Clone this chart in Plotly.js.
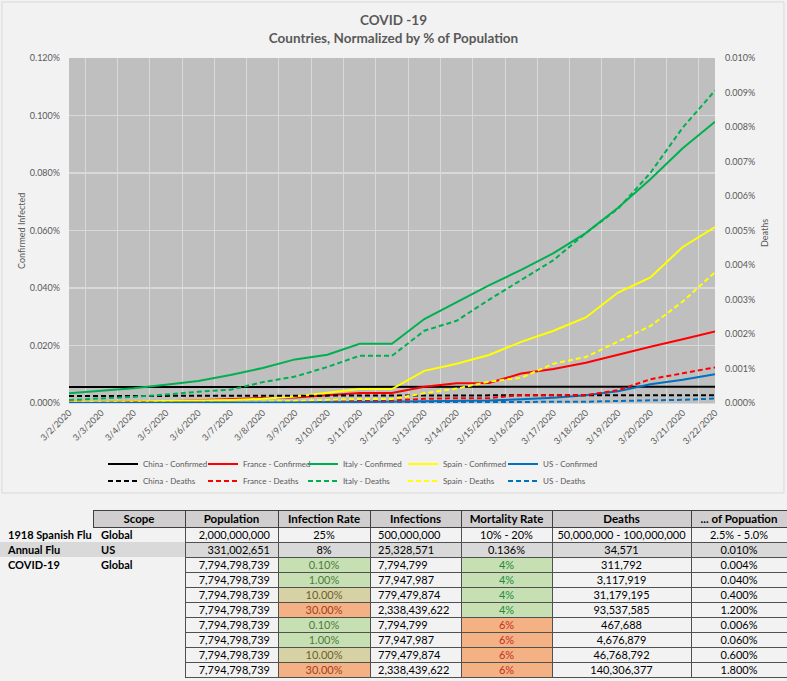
<!DOCTYPE html>
<html>
<head>
<meta charset="utf-8">
<script src="https://cdn.plot.ly/plotly-3.0.1.min.js"></script>
<style>
  html, body { margin: 0; padding: 0; background: #f2f2f2; }
  #chart { width: 787px; height: 681px; }
</style>
</head>
<body>
<div id="chart"></div>
<script>
// ---------- chart data (percent of population) ----------
const dates = ['3/2/2020','3/3/2020','3/4/2020','3/5/2020','3/6/2020','3/7/2020','3/8/2020','3/9/2020','3/10/2020','3/11/2020','3/12/2020','3/13/2020','3/14/2020','3/15/2020','3/16/2020','3/17/2020','3/18/2020','3/19/2020','3/20/2020','3/21/2020','3/22/2020'];

const chinaConfirmed = [0.00556,0.00557,0.00558,0.00559,0.00560,0.00560,0.00561,0.00561,0.00561,0.00561,0.00561,0.00561,0.00562,0.00562,0.00562,0.00562,0.00562,0.00562,0.00562,0.00563,0.00566];
const franceConfirmed = [0.00029,0.00031,0.00044,0.00058,0.00100,0.00147,0.00174,0.00187,0.00275,0.00351,0.00351,0.00564,0.00689,0.00694,0.01024,0.01182,0.01398,0.01681,0.01955,0.02216,0.02489];
const italyConfirmed = [0.00337,0.00414,0.00511,0.00638,0.00767,0.00973,0.0122,0.01517,0.01679,0.0206,0.0206,0.0292,0.0350,0.0409,0.0463,0.0521,0.0591,0.0679,0.0778,0.0886,0.0978];
const spainConfirmed = [0.00026,0.00035,0.00048,0.00055,0.00086,0.00107,0.00144,0.00230,0.00363,0.00487,0.00487,0.01119,0.01367,0.01668,0.02127,0.02513,0.02975,0.03842,0.04366,0.05428,0.06118];
const usConfirmed = [0.00002,0.00002,0.00003,0.00005,0.00007,0.00010,0.00014,0.00016,0.00022,0.00034,0.00047,0.00065,0.00087,0.00090,0.00132,0.00186,0.00269,0.00410,0.00650,0.00810,0.01000];

const chinaDeaths = [0.000202,0.000205,0.000207,0.000209,0.000211,0.000213,0.000215,0.000217,0.000218,0.000219,0.000220,0.000221,0.000222,0.000222,0.000223,0.000224,0.000225,0.000225,0.000226,0.000226,0.000227];
const franceDeaths = [0.000005,0.000006,0.000006,0.000009,0.000014,0.000017,0.000029,0.000029,0.000051,0.000074,0.000074,0.000121,0.000139,0.000139,0.000227,0.000227,0.000227,0.000372,0.000689,0.000861,0.001033];
const italyDeaths = [0.000086,0.000131,0.000177,0.000245,0.000326,0.000385,0.000605,0.000766,0.001044,0.001368,0.001368,0.002094,0.002383,0.002992,0.003569,0.004140,0.004925,0.005632,0.006669,0.007980,0.009057];
const spainDeaths = [0,0.000002,0.000004,0.000006,0.000011,0.000021,0.000036,0.000060,0.000075,0.000116,0.000118,0.000284,0.000417,0.000618,0.000732,0.001140,0.001333,0.001775,0.002231,0.002941,0.003790];
const usDeaths = [0.000002,0.000003,0.000003,0.000004,0.000004,0.000005,0.000006,0.000007,0.000009,0.000011,0.000012,0.000014,0.000016,0.000019,0.000026,0.000033,0.000036,0.000060,0.000074,0.000093,0.000129];

const countries = ['China','France','Italy','Spain','US'];
const countryColors = ['#000000','#ff0000','#00b050','#ffff00','#0070c0'];

// ---------- table data ----------
const tableHeaders = ['', 'Scope', 'Population', 'Infection Rate', 'Infections', 'Mortality Rate', 'Deaths', '... of Popuation'];
const tableLabels = ['1918 Spanish Flu','Annual Flu','COVID-19','','','','','','',''];
const tableScope = ['Global','US','Global','','','','','','',''];
const tablePopulation = ['2,000,000,000','331,002,651','7,794,798,739','7,794,798,739','7,794,798,739','7,794,798,739','7,794,798,739','7,794,798,739','7,794,798,739','7,794,798,739'];
const tableInfectionRate = ['25%','8%','0.10%','1.00%','10.00%','30.00%','0.10%','1.00%','10.00%','30.00%'];
const tableInfections = ['500,000,000','25,328,571','7,794,799','77,947,987','779,479,874','2,338,439,622','7,794,799','77,947,987','779,479,874','2,338,439,622'];
const tableMortalityRate = ['10% - 20%','0.136%','4%','4%','4%','4%','6%','6%','6%','6%'];
const tableDeaths = ['50,000,000 - 100,000,000','34,571','311,792','3,117,919','31,179,195','93,537,585','467,688','4,676,879','46,768,792','140,306,377'];
const tableOfPopulation = ['2.5% - 5.0%','0.010%','0.004%','0.040%','0.400%','1.200%','0.006%','0.060%','0.600%','1.800%'];

// ---------- build figure ----------
const W = 787, H = 681;
const px = v => v / W;
const py = v => 1 - v / H;

const confirmedSeries = [chinaConfirmed, franceConfirmed, italyConfirmed, spainConfirmed, usConfirmed];
const deathSeries = [chinaDeaths, franceDeaths, italyDeaths, spainDeaths, usDeaths];

const traces = [];
countries.forEach((c, i) => {
  traces.push({
    type: 'scatter', mode: 'lines', x: dates, y: confirmedSeries[i],
    name: c + ' - Confirmed', yaxis: 'y', legend: 'legend',
    line: { color: countryColors[i], width: 2 }
  });
});
countries.forEach((c, i) => {
  traces.push({
    type: 'scatter', mode: 'lines', x: dates, y: deathSeries[i],
    name: c + ' - Deaths', yaxis: 'y2', legend: 'legend2',
    line: { color: countryColors[i], width: 2, dash: '5px,3px' }
  });
});

// table
const nb = s => s.replace(/ /g, '\u00a0');
const baseFill = r => (r === 1 ? '#d9d9d9' : '#f2f2f2');
const irFill = tableInfectionRate.map((v, r) => {
  if (r < 2) return baseFill(r);
  const k = (r - 2) % 4;
  return k < 2 ? '#c6e0b4' : (k === 2 ? '#d7d2a6' : '#f4b183');
});
const irFont = tableInfectionRate.map((v, r) => {
  if (r < 2) return '#000000';
  const k = (r - 2) % 4;
  return k < 2 ? '#4f7a3c' : (k === 2 ? '#6b5f2c' : '#a3401e');
});
const mrFill = tableMortalityRate.map((v, r) => (r < 2 ? baseFill(r) : (r < 6 ? '#c6e0b4' : '#f4b183')));
const mrFont = tableMortalityRate.map((v, r) => (r < 2 ? '#000000' : (r < 6 ? '#1e8a3c' : '#c0301e')));
const plainFill = tableLabels.map((v, r) => baseFill(r));
const blackFont = tableLabels.map(() => '#000000');

traces.push({
  type: 'table',
  domain: { x: [0, 1], y: [0, py(510)] },
  columnwidth: [93, 92, 93, 92, 91, 91, 139, 96],
  header: {
    values: tableHeaders.map(nb),
    align: 'center',
    height: 17,
    fill: { color: ['#f2f2f2', '#d0cece', '#d0cece', '#d0cece', '#d0cece', '#d0cece', '#d0cece', '#d0cece'] },
    line: { color: ['rgba(0,0,0,0)', '#404040', '#404040', '#404040', '#404040', '#404040', '#404040', '#404040'], width: 1 },
    font: { family: 'Lato, sans-serif', size: 11.5, color: '#000000', weight: 'bold' }
  },
  cells: {
    values: [tableLabels, tableScope, tablePopulation, tableInfectionRate, tableInfections, tableMortalityRate, tableDeaths, tableOfPopulation].map(col => col.map(nb)),
    align: ['left', 'left', 'right', 'center', 'left', 'center', 'center', 'center'],
    height: 15,
    fill: { color: [plainFill, plainFill, plainFill, irFill, plainFill, mrFill, plainFill, plainFill] },
    line: { color: ['rgba(0,0,0,0)', 'rgba(0,0,0,0)', '#505050', '#505050', '#505050', '#505050', '#505050', '#505050'], width: 1 },
    font: {
      family: 'Lato, sans-serif', size: 11,
      color: [blackFont, blackFont, blackFont, irFont, blackFont, mrFont, blackFont, blackFont],
      weight: ['bold', 'bold', 'normal', 'normal', 'normal', 'normal', 'normal', 'normal']
    }
  }
});

const tickFont = { family: 'Lato, sans-serif', size: 9, color: '#595959' };
const legendFont = { family: 'Lato, sans-serif', size: 8, color: '#595959' };

const layout = {
  width: W, height: H,
  margin: { l: 0, r: 0, t: 0, b: 0 },
  paper_bgcolor: '#f2f2f2',
  plot_bgcolor: '#bfbfbf',
  font: { family: 'Lato, sans-serif', color: '#595959' },
  title: {
    text: 'COVID -19<br>Countries, Normalized by % of Population',
    font: { family: 'Lato, sans-serif', size: 13.5, color: '#595959', weight: 'bold' },
    x: 0.5, xanchor: 'center', y: py(25), yanchor: 'middle'
  },
  showlegend: true,
  xaxis: {
    type: 'category', domain: [px(69), px(715)],
    tickson: 'boundaries', showgrid: true, gridcolor: '#d9d9d9', gridwidth: 1,
    ticks: '', tickangle: -45, tickfont: tickFont, zeroline: false,
    showline: true, linecolor: '#d9d9d9', anchor: 'y', fixedrange: true
  },
  yaxis: {
    domain: [py(403), py(58)], range: [0, 0.12], dtick: 0.02,
    tickformat: '.3f', ticksuffix: '%', tickfont: tickFont,
    showgrid: true, gridcolor: '#d9d9d9', gridwidth: 1.5, zeroline: false,
    ticklabelstandoff: 8, fixedrange: true
  },
  yaxis2: {
    overlaying: 'y', side: 'right', range: [0, 0.01], dtick: 0.001,
    tickformat: '.3f', ticksuffix: '%', tickfont: tickFont,
    showgrid: false, zeroline: false, ticklabelstandoff: 9, fixedrange: true
  },
  legend: {
    orientation: 'h', x: px(103), xanchor: 'left', y: py(464), yanchor: 'middle',
    font: legendFont, bgcolor: 'rgba(0,0,0,0)', entrywidth: 55, itemwidth: 30, tracegroupgap: 0
  },
  legend2: {
    orientation: 'h', x: px(103), xanchor: 'left', y: py(481), yanchor: 'middle',
    font: legendFont, bgcolor: 'rgba(0,0,0,0)', entrywidth: 55, itemwidth: 30, tracegroupgap: 0
  },
  annotations: [
    { text: 'Confirmed Infected', xref: 'paper', yref: 'paper', x: px(22), y: py(231), textangle: -90,
      xanchor: 'center', yanchor: 'middle',
      showarrow: false, font: { family: 'Lato, sans-serif', size: 9, color: '#595959' } },
    { text: 'Deaths', xref: 'paper', yref: 'paper', x: px(764), y: py(233), textangle: -90,
      xanchor: 'center', yanchor: 'middle',
      showarrow: false, font: { family: 'Lato, sans-serif', size: 9, color: '#595959' } }
  ],
  shapes: [
    { type: 'rect', xref: 'paper', yref: 'paper', x0: px(2), x1: px(784), y0: py(493), y1: py(2),
      line: { color: '#d9d9d9', width: 1 }, fillcolor: 'rgba(0,0,0,0)', layer: 'below' }
  ]
};

Plotly.newPlot('chart', traces, layout, { displayModeBar: false, staticPlot: true }).then(gd => {
  // raise table text to sit vertically centred in the short spreadsheet-style rows
  gd.querySelectorAll('.table .cell-text').forEach(t => {
    const tr = t.getAttribute('transform') || '';
    t.setAttribute('transform', tr + ' translate(0,-4)');
  });
});
</script>
</body>
</html>
